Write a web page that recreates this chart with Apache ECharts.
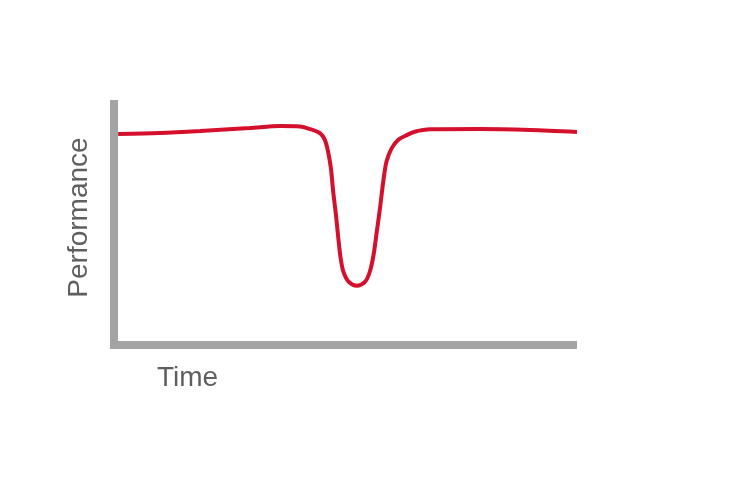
<!DOCTYPE html>
<html>
<head>
<meta charset="utf-8">
<script src="https://cdn.jsdelivr.net/npm/echarts@6/dist/echarts.min.js"></script>
<style>html,body{margin:0;padding:0;background:#fff}#c{width:730px;height:479px}</style>
</head>
<body>
<div id="c"></div>
<script>
const time = [1.0, 10.0, 18.7, 29.4, 35.9, 40.2, 42.4, 44.6, 45.6, 46.3, 46.9, 47.4, 48.0, 48.5, 49.0, 49.6, 50.7, 52.5, 54.3, 55.3, 56.1, 56.8, 57.5, 58.2, 58.9, 60.0, 61.4, 63.3, 65.0, 68.3, 79.1, 89.9, 100];
const performance = [87.6, 88.0, 88.8, 90.0, 90.9, 90.7, 89.6, 87.8, 85.1, 80.2, 73.4, 63.6, 53.9, 44.4, 36.1, 30.4, 26.3, 24.6, 26.3, 30.4, 37.3, 47.0, 56.8, 67.8, 76.1, 81.6, 85.1, 87.1, 88.5, 89.5, 89.6, 89.2, 88.4];
const xName = 'Time';
const yName = 'Performance';

const chart = echarts.init(document.getElementById('c'));
const axisGray = '#a3a3a3';
const textGray = '#5f5f5f';
const font = 'Liberation Sans, Arial, sans-serif';
chart.setOption({
  animation: false,
  grid: { left: 113.5, top: 104, right: 153, bottom: 134, containLabel: false },
  xAxis: {
    type: 'value', min: 0, max: 100,
    axisLine: { show: true, lineStyle: { color: axisGray, width: 8, cap: 'butt' } },
    axisTick: { show: false }, axisLabel: { show: false }, splitLine: { show: false }
  },
  yAxis: {
    type: 'value', min: 0, max: 100,
    axisLine: { show: true, lineStyle: { color: axisGray, width: 8, cap: 'square' } },
    axisTick: { show: false }, axisLabel: { show: false }, splitLine: { show: false }
  },
  graphic: [{
    type: 'text', left: 157, top: 364,
    style: { text: xName, fill: textGray, fontSize: 28, fontFamily: font }
  }, {
    type: 'text', x: 79, y: 217.5, rotation: Math.PI / 2,
    style: { text: yName, fill: textGray, fontSize: 28, fontFamily: font, align: 'center', verticalAlign: 'middle' }
  }],
  series: [{
    type: 'line',
    data: time.map((t, i) => [t, performance[i]]),
    smooth: 0.3,
    showSymbol: false,
    lineStyle: { color: '#d5102c', width: 4 },
    z: 1
  }]
});
</script>
</body>
</html>
